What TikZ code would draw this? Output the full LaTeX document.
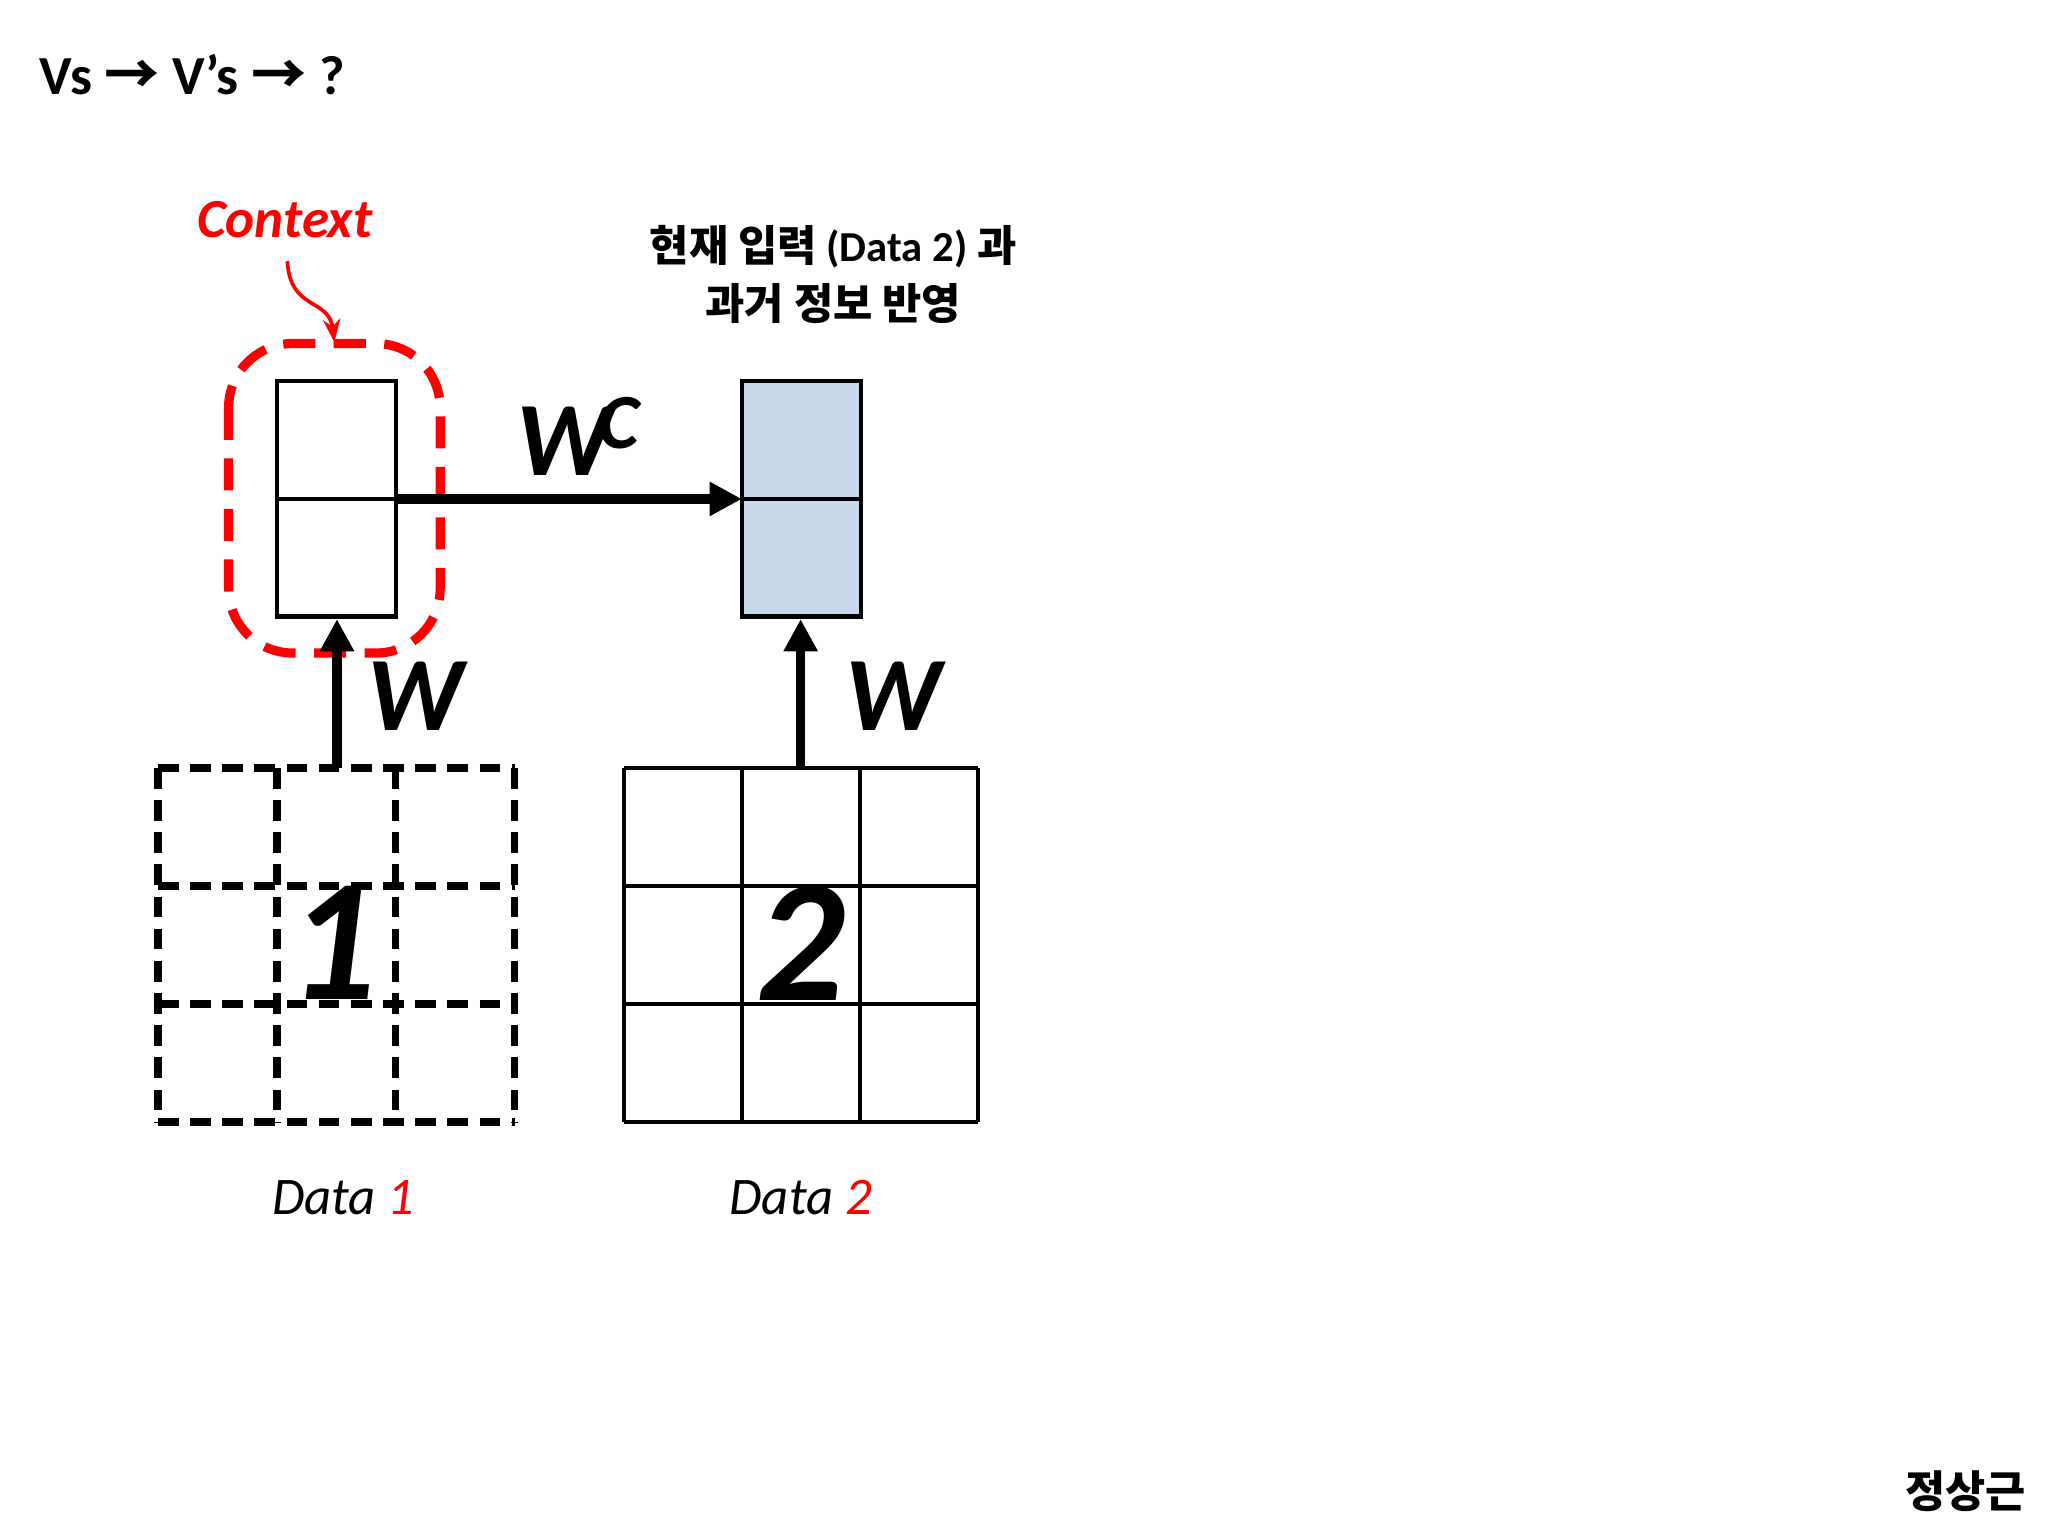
\documentclass[tikz,border=0pt]{standalone}
\usepackage{fontspec}
\setmainfont{Carlito}
\newfontfamily\kr{Noto Sans CJK KR}
\usetikzlibrary{arrows.meta}
\definecolor{vecblue}{HTML}{C8D9EE}
\begin{document}
\begin{tikzpicture}[x=0.01cm,y=-0.01cm,
  cell/.style={draw,line width=0.9pt},
  dcell/.style={draw,line width=1.6pt,dash pattern=on 4.5pt off 2.5pt},
  conn/.style={line width=2pt,-{Triangle[length=7pt,width=7pt]}},
  big/.style={font=\fontsize{23}{26}\selectfont\bfseries\itshape},
  num/.style={font=\fontsize{38}{40}\selectfont\bfseries\itshape},
  lab/.style={font=\fontsize{11.5}{13}\selectfont\itshape}]
\useasboundingbox (0,0) rectangle (1568,1176);
\node[font=\fontsize{12}{16}\selectfont\bfseries,anchor=west] (title) at (18,57) {Vs \kr\bfseries→ \rmfamily V’s \kr\bfseries→ \rmfamily ?};
\node[font=\fontsize{12}{14}\selectfont\bfseries\itshape,text=red] (ctx) at (218,168) {Context};
\draw[red,line width=2pt,dash pattern=on 7pt off 4pt,rounded corners=14pt] (175,263) rectangle (337,500);
\coordinate (ctxin) at (256,262);
\draw[red,line width=0.8pt,-{Stealth[length=5pt]}] (220,200) .. controls (222,238) and (252,228) .. (ctxin);
% left vector
\draw[cell] (212,292) rectangle (303,472);
\draw[line width=0.9pt] (212,382) -- (303,382);
\coordinate (lvR) at (303,382);
\coordinate (lvB) at (258,474);
% right vector
\draw[cell,fill=vecblue] (568,292) rectangle (659,472);
\draw[line width=0.9pt] (568,382) -- (659,382);
\coordinate (rvL) at (568,382);
\coordinate (rvB) at (613,474);
\draw[conn] (lvR) -- (rvL);
\node[big] (wc) at (432,338) {W};
\node[font=\fontsize{17}{18}\selectfont\itshape\bfseries] (c) at (474,324) {C};
\node[font=\kr\bfseries\fontsize{9.3}{12.5}\selectfont,align=center] (note) at (638,210) {현재 입력 {\rmfamily\bfseries (Data 2)} 과\\과거 정보 반영};
% left grid
\foreach \k in {0,1,2,3}{
  \draw[dcell] (121+91*\k,588) -- (121+91*\k,859);
  \draw[dcell] (121,588+90.3*\k) -- (394,588+90.3*\k);}
\coordinate (lgT) at (258,588);
\node[num] (one) at (255,722) {1};
\draw[conn] (lgT) -- (lvB);
\node[big] (w1) at (318,533) {W};
% right grid
\foreach \k in {0,1,2,3}{
  \draw[cell] (478+90.3*\k,588) -- (478+90.3*\k,859);
  \draw[cell] (478,588+90.3*\k) -- (749,588+90.3*\k);}
\coordinate (rgT) at (613,588);
\node[num] (two) at (613,722) {2};
\draw[conn] (rgT) -- (rvB);
\node[big] (w2) at (684,533) {W};
\node[lab] (d1) at (263,917) {Data {\color{red}1}};
\node[lab] (d2) at (613,917) {Data {\color{red}2}};
\node[font=\kr\bfseries\fontsize{9.5}{12}\selectfont] (auth) at (1505,1142) {정상근};
\end{tikzpicture}
\end{document}
